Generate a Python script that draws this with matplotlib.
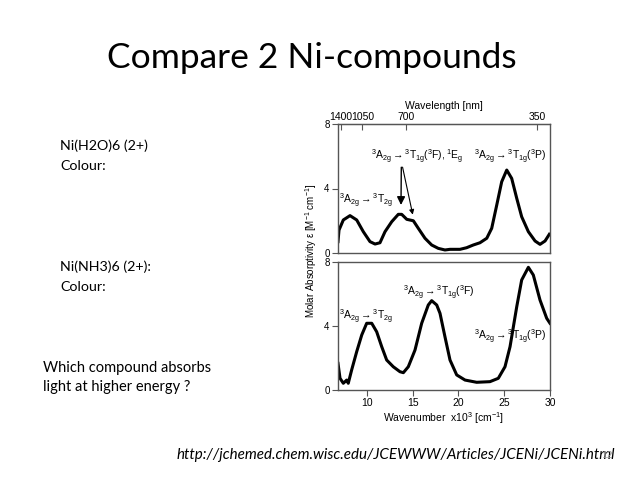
import matplotlib
matplotlib.use("Agg")
import matplotlib.pyplot as plt

# spectra: wavenumber (x10^3 cm-1) vs molar absorptivity
wn_h2o = [6.87, 6.98, 7.45, 8.18, 8.91, 9.63, 10.36, 10.91, 11.45, 12.0, 12.73, 13.45,
          13.82, 14.37, 15.09, 15.63, 16.36, 17.09, 17.81, 18.54, 19.09, 20.18, 20.9,
          21.63, 22.36, 23.1, 23.64, 24.19, 24.73, 25.28, 25.82, 26.37, 26.91, 27.64,
          28.37, 28.91, 29.46, 29.93]
eps_h2o = [0.69, 1.41, 2.04, 2.31, 2.04, 1.31, 0.69, 0.54, 0.62, 1.31, 1.93, 2.39,
           2.39, 2.08, 1.99, 1.52, 0.90, 0.48, 0.27, 0.17, 0.21, 0.21, 0.31,
           0.48, 0.62, 0.90, 1.52, 2.97, 4.42, 5.15, 4.63, 3.39, 2.24, 1.31,
           0.73, 0.52, 0.73, 1.15]

wn_nh3 = [6.87, 7.09, 7.45, 7.82, 7.99, 8.36, 8.91, 9.46, 10.0, 10.55, 11.09, 11.64,
          12.18, 12.9, 13.63, 14.0, 14.54, 15.27, 16.0, 16.72, 17.09, 17.64, 18.0,
          18.54, 19.09, 19.82, 20.73, 22.0, 23.45, 24.36, 25.09, 25.64, 26.37, 26.91,
          27.64, 28.18, 28.91, 29.64, 30.0]
eps_nh3 = [1.66, 0.73, 0.42, 0.62, 0.42, 1.25, 2.39, 3.43, 4.16, 4.16, 3.63, 2.70,
           1.87, 1.45, 1.14, 1.08, 1.45, 2.49, 4.16, 5.30, 5.57, 5.30, 4.78,
           3.32, 1.87, 0.94, 0.62, 0.48, 0.52, 0.73, 1.45, 2.70, 5.19, 6.86,
           7.65, 7.17, 5.61, 4.47, 4.16]

wl_ticks = [1400, 1050, 700, 350]
x_ticks = [10, 15, 20, 25, 30]
y_ticks = [0, 4, 8]

W, H = 638, 479
plt.rcParams["mathtext.fontset"] = "custom"
plt.rcParams["mathtext.rm"] = "Liberation Sans"
plt.rcParams["mathtext.it"] = "Liberation Sans"
plt.rcParams["mathtext.bf"] = "Liberation Sans"

fig = plt.figure(figsize=(W / 100, H / 100), dpi=100)
fig.patch.set_facecolor("white")

def box(x0, y0, x1, y1):
    return [x0 / W, 1 - y1 / H, (x1 - x0) / W, (y1 - y0) / H]

slide_font = "Lato"
fig.text(312 / W, 1 - 58 / H, "Compare 2 Ni-compounds", fontsize=25.5,
         family=slide_font, ha="center", va="center")
fig.text(60 / W, 1 - 146 / H, "Ni(H2O)6 (2+)", fontsize=10.3, family=slide_font, va="center")
fig.text(60 / W, 1 - 166 / H, "Colour:", fontsize=10.3, family=slide_font, va="center")
fig.text(60 / W, 1 - 267 / H, "Ni(NH3)6 (2+):", fontsize=10.3, family=slide_font, va="center")
fig.text(60 / W, 1 - 287 / H, "Colour:", fontsize=10.3, family=slide_font, va="center")
fig.text(43 / W, 1 - 368 / H, "Which compound absorbs", fontsize=10.5, family=slide_font, va="center")
fig.text(43 / W, 1 - 387 / H, "light at higher energy ?", fontsize=10.5, family=slide_font, va="center")
fig.text(177 / W, 1 - 455 / H, "http://jchemed.chem.wisc.edu/JCEWWW/Articles/JCENi/JCENi.html",
         fontsize=10.9, family=slide_font, style="italic", va="center")
fig.text(601 / W, 1 - 456 / H, "12", fontsize=7, family=slide_font, color="#999999", va="center")

spine_col = "#555555"
sfont = "Liberation Sans"
ax1 = fig.add_axes(box(338, 124.3, 550, 252.7))
ax2 = fig.add_axes(box(338, 261.7, 550, 390))

for ax, wn, eps in [(ax1, wn_h2o, eps_h2o), (ax2, wn_nh3, eps_nh3)]:
    ax.plot(wn, eps, color="black", lw=2.2, solid_joinstyle="round")
    ax.set_xlim(6.87, 30)
    ax.set_ylim(0, 8)
    ax.set_yticks(y_ticks)
    for s in ax.spines.values():
        s.set_color(spine_col)
        s.set_linewidth(1.0)
    ax.tick_params(axis="y", direction="out", length=4, width=0.8, color=spine_col,
                   labelsize=7, pad=2)
    for lab in ax.get_yticklabels():
        lab.set_family(sfont)

ax1.set_xticks([])
ax2.set_xticks(x_ticks)
ax2.tick_params(axis="x", direction="out", length=4, width=0.8, color=spine_col,
                labelsize=7.5, pad=2)
for lab in ax2.get_xticklabels():
    lab.set_family(sfont)
ax2.set_xlabel("Wavenumber  x10$^3$ [cm$^{-1}$]", fontsize=7.5, family=sfont, labelpad=1)

top = ax1.secondary_xaxis("top", functions=(lambda v: v, lambda v: v))
top.set_xticks([1e4 / w for w in wl_ticks])
top.set_xticklabels([str(w) for w in wl_ticks], fontsize=7.5, family=sfont)
top.tick_params(direction="in", length=4, width=0.8, color=spine_col, pad=2)
top.spines["top"].set_color(spine_col)
top.set_xlabel("Wavelength [nm]", fontsize=7.5, family=sfont, labelpad=2)

fig.text(311 / W, 1 - 251 / H, "Molar Absorptivity ε [M$^{-1}$ cm$^{-1}$]", rotation=90,
         fontsize=7, family=sfont, ha="center", va="center")

lab_kw = dict(fontsize=7.5, family=sfont, va="center", ha="left")
ax1.text(7.0, 3.2, r"$^3A_{2g}\rightarrow{}^3T_{2g}$", **lab_kw)
ax1.text(10.5, 5.98, r"$^3A_{2g}\rightarrow{}^3T_{1g}(^3F),{}^1E_g$", **lab_kw)
ax1.text(21.7, 5.98, r"$^3A_{2g}\rightarrow{}^3T_{1g}(^3P)$", **lab_kw)
ax1.annotate("", xy=(13.74, 2.8), xytext=(13.78, 5.5),
             arrowprops=dict(arrowstyle="-|>", color="black", lw=1.0, mutation_scale=12))
ax1.annotate("", xy=(15.09, 2.2), xytext=(13.85, 5.5),
             arrowprops=dict(arrowstyle="-|>", color="black", lw=0.8, mutation_scale=7))

ax2.text(7.0, 4.57, r"$^3A_{2g}\rightarrow{}^3T_{2g}$", **lab_kw)
ax2.text(14.0, 6.03, r"$^3A_{2g}\rightarrow{}^3T_{1g}(^3F)$", **lab_kw)
ax2.text(21.7, 3.29, r"$^3A_{2g}\rightarrow{}^3T_{1g}(^3P)$", **lab_kw)

fig.savefig("out.png", dpi=100)
